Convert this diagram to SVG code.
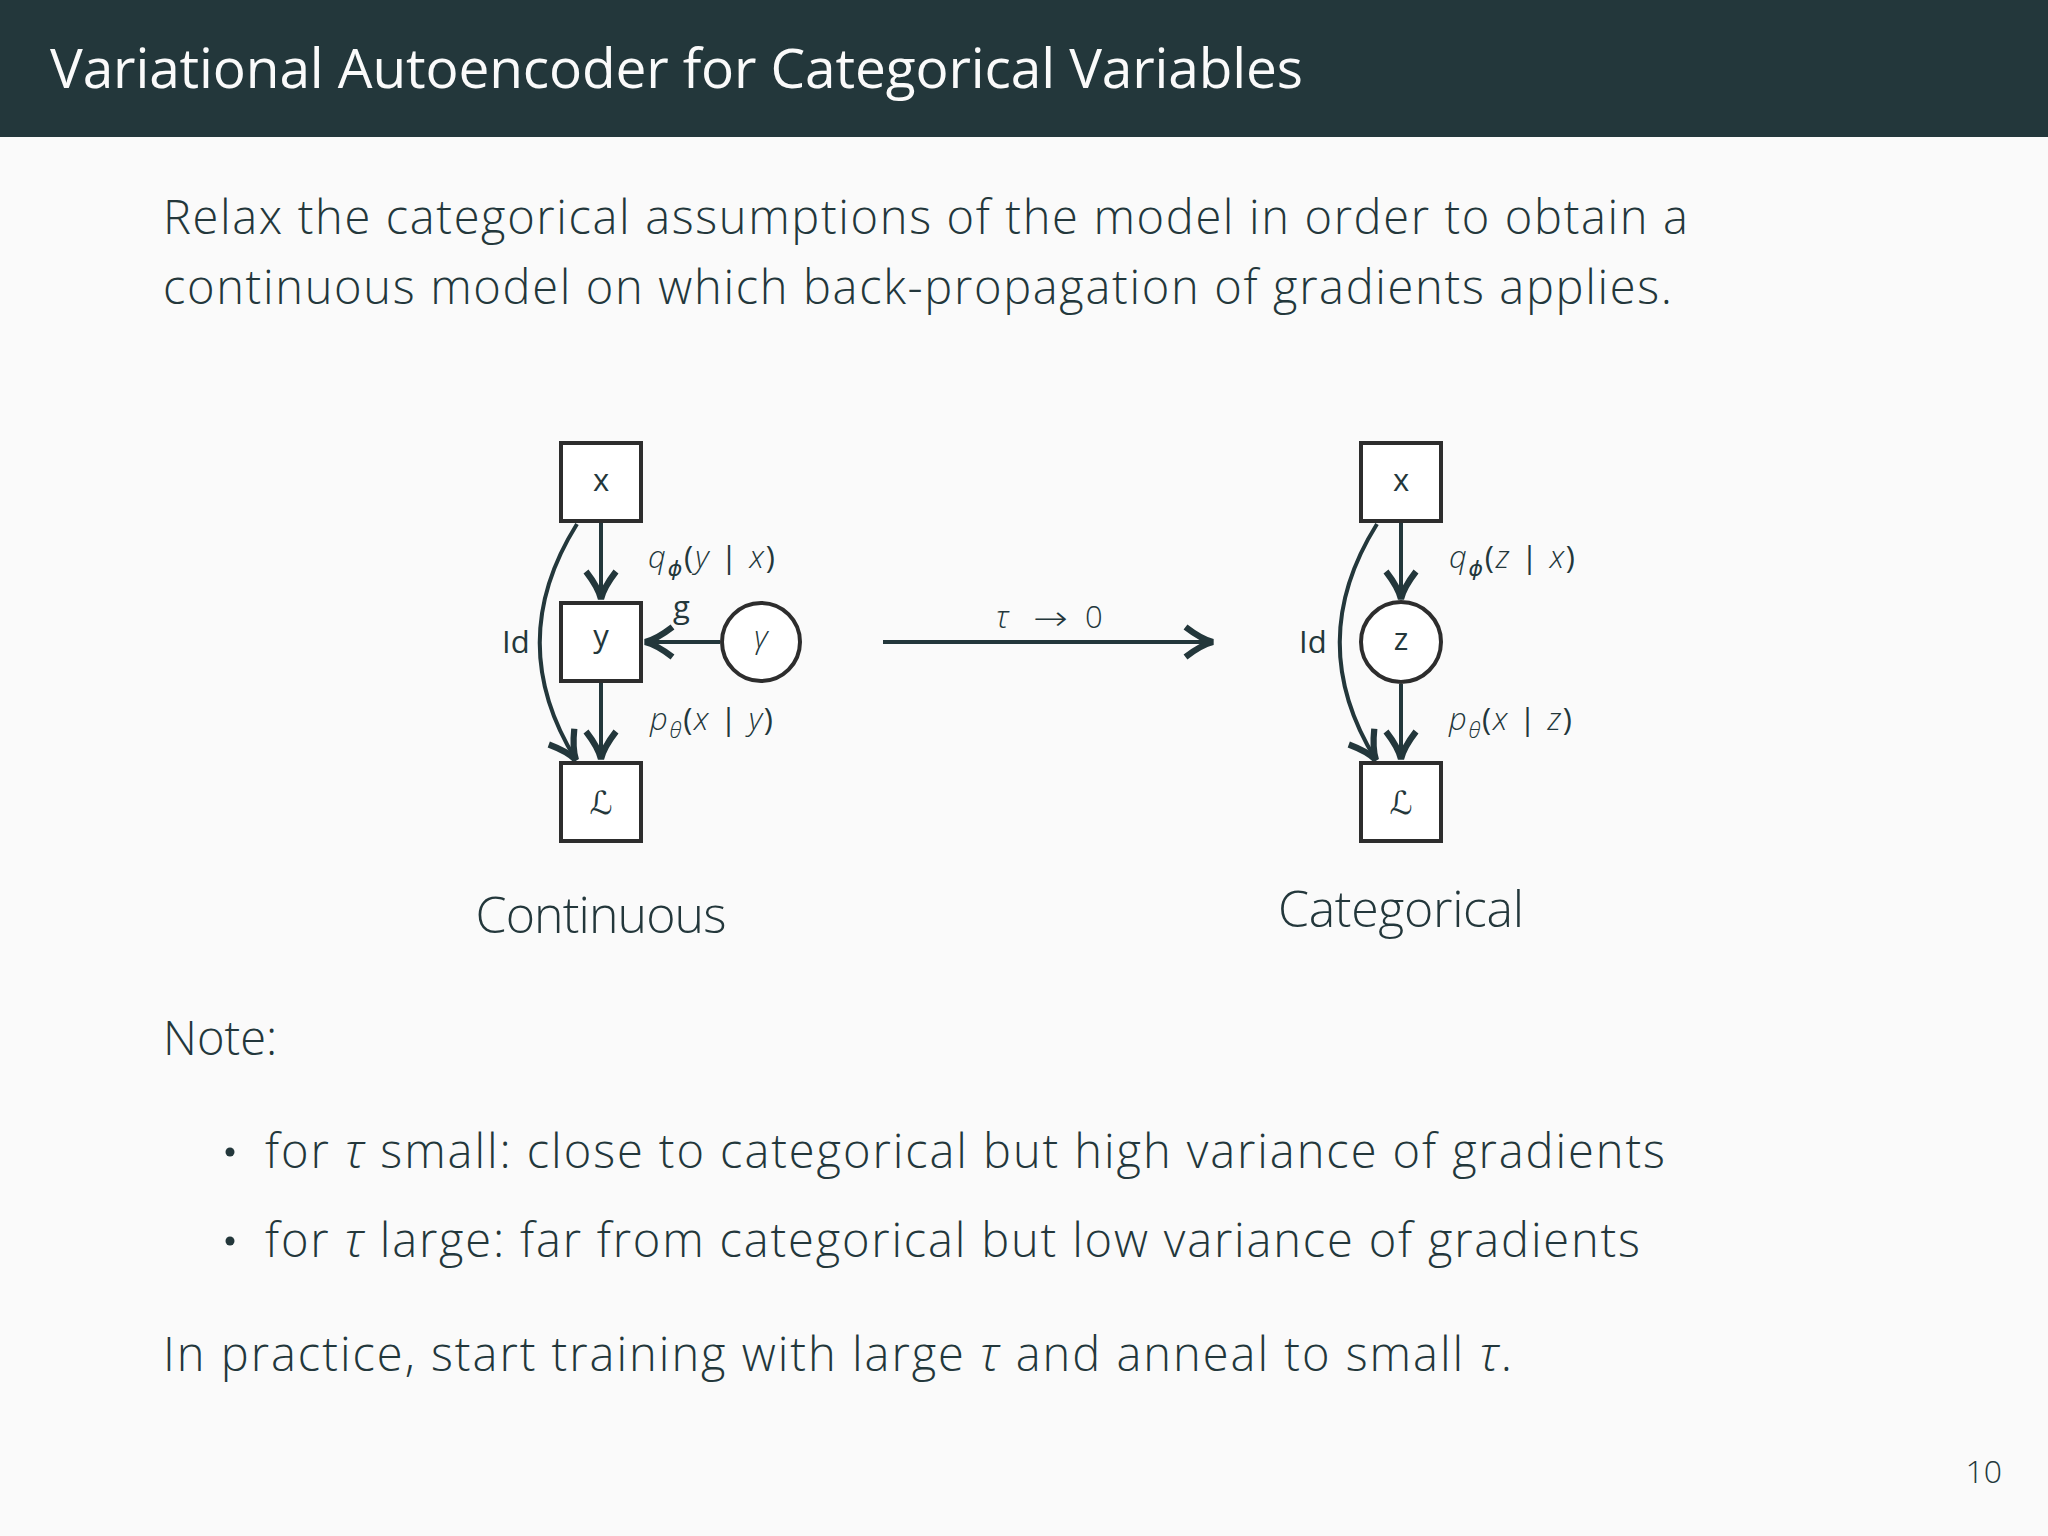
<svg xmlns="http://www.w3.org/2000/svg" width="2048" height="1536" viewBox="0 0 2048 1536">
<defs>
<style>
.t{font-family:"Open Sans","Liberation Sans",sans-serif;font-weight:300;fill:#23373b}
.m{font-family:"Open Sans","DejaVu Sans",sans-serif;font-weight:400;fill:#23373b;font-size:31px}
.i{font-style:italic;font-weight:300}
.L{font-family:"DejaVu Sans",sans-serif;font-style:italic;fill:#23373b;font-size:32px}
.box{fill:#ffffff;stroke:#2d2d2d;stroke-width:4}
.ln{fill:none;stroke:#23373b;stroke-width:4;marker-end:url(#ah)}
</style>
<marker id="ah" markerUnits="userSpaceOnUse" markerWidth="40" markerHeight="40" viewBox="-26 -16 30 32" refX="0" refY="0" orient="auto">
<path d="M-22,-12 Q-9,-2 0,0 Q-9,2 -22,12" fill="none" stroke="#23373b" stroke-width="5" stroke-linejoin="miter"/>
</marker>
</defs>
<rect x="0" y="0" width="2048" height="1536" fill="#fafafa"/>
<rect x="0" y="0" width="2048" height="137" fill="#23373b"/>
<text x="50" y="88" class="t" style="fill:#fafafa;font-weight:400" font-size="55" textLength="1253">Variational Autoencoder for Categorical Variables</text>

<text x="163" y="234" class="t" font-size="47" textLength="1525">Relax the categorical assumptions of the model in order to obtain a</text>
<text x="163" y="304" class="t" font-size="47" textLength="1509">continuous model on which back-propagation of gradients applies.</text>

<g id="connectors">
<path class="ln" d="M601,523 L601,599"/>
<path class="ln" d="M601,683 L601,759"/>
<path class="ln" d="M720,642 L645,642"/>
<path class="ln" d="M577,524 Q503,642 576,760"/>
<path class="ln" d="M1401,523 L1401,599"/>
<path class="ln" d="M1401,684 L1401,759"/>
<path class="ln" d="M1377,524 Q1303,642 1376,760"/>
<path class="ln" d="M883,642 L1213,642"/>
</g>

<g id="left-x"><rect class="box" x="561" y="443" width="80" height="78"/><text x="601" y="491" class="m" text-anchor="middle">x</text></g>
<g id="left-y"><rect class="box" x="561" y="603" width="80" height="78"/><text x="601" y="647" class="m" text-anchor="middle">y</text></g>
<g id="left-L"><rect class="box" x="561" y="763" width="80" height="78"/><text x="601" y="814" class="L" text-anchor="middle">ℒ</text></g>
<g id="gamma"><circle cx="761" cy="642" r="39" fill="#ffffff" stroke="#2d2d2d" stroke-width="4"/><text x="761" y="648" class="m i" text-anchor="middle">γ</text></g>

<g id="right-x"><rect class="box" x="1361" y="443" width="80" height="78"/><text x="1401" y="491" class="m" text-anchor="middle">x</text></g>
<g id="right-z"><circle cx="1401" cy="642" r="40" fill="#ffffff" stroke="#2d2d2d" stroke-width="4"/><text x="1401" y="650" class="m" text-anchor="middle">z</text></g>
<g id="right-L"><rect class="box" x="1361" y="763" width="80" height="78"/><text x="1401" y="814" class="L" text-anchor="middle">ℒ</text></g>

<g id="labels">
<text x="648" y="568" class="m" textLength="127"><tspan class="i">q</tspan><tspan class="i" font-size="22" dy="8">ϕ</tspan><tspan dy="-8">(</tspan><tspan class="i">y</tspan> | <tspan class="i">x</tspan>)</text>
<text x="673" y="618" class="m">g</text>
<text x="502" y="653" class="m" font-size="32">Id</text>
<text x="650" y="730" class="m" textLength="123"><tspan class="i">p</tspan><tspan class="i" font-size="22" dy="8">θ</tspan><tspan dy="-8">(</tspan><tspan class="i">x</tspan> | <tspan class="i">y</tspan>)</text>
<text x="996" y="628" class="m i" font-size="33">τ</text>
<text x="1033" y="630" style="font-family:'DejaVu Sans',sans-serif;fill:#23373b;font-weight:300" font-size="34" textLength="35" lengthAdjust="spacingAndGlyphs">→</text>
<text x="1085" y="628" class="m" font-size="29" style="font-weight:300">0</text>
<text x="1449" y="568" class="m" textLength="126"><tspan class="i">q</tspan><tspan class="i" font-size="22" dy="8">ϕ</tspan><tspan dy="-8">(</tspan><tspan class="i">z</tspan> | <tspan class="i">x</tspan>)</text>
<text x="1299" y="653" class="m" font-size="32">Id</text>
<text x="1449" y="730" class="m" textLength="123"><tspan class="i">p</tspan><tspan class="i" font-size="22" dy="8">θ</tspan><tspan dy="-8">(</tspan><tspan class="i">x</tspan> | <tspan class="i">z</tspan>)</text>
<text x="601" y="933" class="t" font-size="50" text-anchor="middle" textLength="251">Continuous</text>
<text x="1401" y="927" class="t" font-size="50" text-anchor="middle" textLength="246">Categorical</text>
</g>

<text x="163" y="1055" class="t" font-size="47">Note:</text>
<circle cx="230" cy="1152" r="4.5" fill="#23373b"/>
<text x="265" y="1168" class="t" font-size="47" textLength="1400">for <tspan class="i">τ</tspan> small: close to categorical but high variance of gradients</text>
<circle cx="230" cy="1241" r="4.5" fill="#23373b"/>
<text x="265" y="1257" class="t" font-size="47" textLength="1375">for <tspan class="i">τ</tspan> large: far from categorical but low variance of gradients</text>
<text x="163" y="1371" class="t" font-size="47" textLength="1349">In practice, start training with large <tspan class="i">τ</tspan> and anneal to small <tspan class="i">τ</tspan>.</text>
<text x="2002" y="1483" class="t" font-size="32" text-anchor="end">10</text>
</svg>
